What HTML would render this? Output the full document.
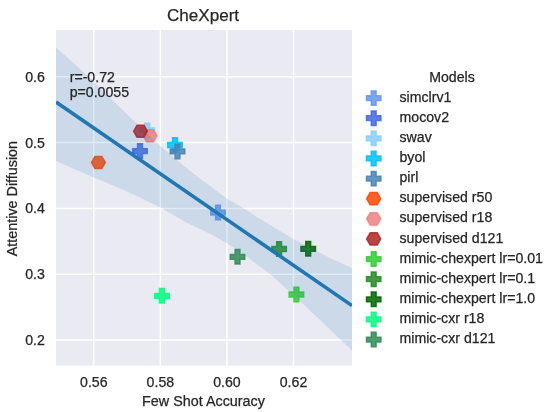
<!DOCTYPE html>
<html><head><meta charset="utf-8"><title>CheXpert</title>
<style>html,body{margin:0;padding:0;background:#fff;}svg{display:block;}text{font-family:"Liberation Sans",Arial,Helvetica,sans-serif;fill:#262626;stroke:#262626;stroke-width:0.25px;}</style></head><body>
<svg width="550" height="412" viewBox="0 0 550 412">
<rect x="0" y="0" width="550" height="412" fill="#ffffff"/>
<rect x="56" y="30" width="296" height="335.6" fill="#eaeaf2"/>
<clipPath id="c"><rect x="56" y="30" width="296" height="335.6"/></clipPath>
<g stroke="#ffffff" stroke-width="1.5" stroke-linecap="butt">
<line x1="93.80" y1="30" x2="93.80" y2="365.6"/>
<line x1="160.37" y1="30" x2="160.37" y2="365.6"/>
<line x1="226.94" y1="30" x2="226.94" y2="365.6"/>
<line x1="293.51" y1="30" x2="293.51" y2="365.6"/>
<line x1="56" y1="340.00" x2="352" y2="340.00"/>
<line x1="56" y1="274.20" x2="352" y2="274.20"/>
<line x1="56" y1="208.40" x2="352" y2="208.40"/>
<line x1="56" y1="142.60" x2="352" y2="142.60"/>
<line x1="56" y1="76.80" x2="352" y2="76.80"/>
</g>
<g clip-path="url(#c)">
<polygon points="215.58,205.35 220.42,205.35 220.42,210.18 225.25,210.18 225.25,215.02 220.42,215.02 220.42,219.85 215.58,219.85 215.58,215.02 210.75,215.02 210.75,210.18 215.58,210.18" fill="#6495ED" fill-opacity="0.85" stroke="#6495ED" stroke-opacity="0.85" stroke-width="1.5" stroke-linejoin="miter"/>
<polygon points="137.58,143.85 142.42,143.85 142.42,148.68 147.25,148.68 147.25,153.52 142.42,153.52 142.42,158.35 137.58,158.35 137.58,153.52 132.75,153.52 132.75,148.68 137.58,148.68" fill="#4169E1" fill-opacity="0.85" stroke="#4169E1" stroke-opacity="0.85" stroke-width="1.5" stroke-linejoin="miter"/>
<polygon points="144.78,123.15 149.62,123.15 149.62,127.98 154.45,127.98 154.45,132.82 149.62,132.82 149.62,137.65 144.78,137.65 144.78,132.82 139.95,132.82 139.95,127.98 144.78,127.98" fill="#87CEFA" fill-opacity="0.85" stroke="#87CEFA" stroke-opacity="0.85" stroke-width="1.5" stroke-linejoin="miter"/>
<polygon points="172.58,137.75 177.42,137.75 177.42,142.58 182.25,142.58 182.25,147.42 177.42,147.42 177.42,152.25 172.58,152.25 172.58,147.42 167.75,147.42 167.75,142.58 172.58,142.58" fill="#00BFFF" fill-opacity="0.85" stroke="#00BFFF" stroke-opacity="0.85" stroke-width="1.5" stroke-linejoin="miter"/>
<polygon points="175.08,144.15 179.92,144.15 179.92,148.98 184.75,148.98 184.75,153.82 179.92,153.82 179.92,158.65 175.08,158.65 175.08,153.82 170.25,153.82 170.25,148.98 175.08,148.98" fill="#4682B4" fill-opacity="0.85" stroke="#4682B4" stroke-opacity="0.85" stroke-width="1.5" stroke-linejoin="miter"/>
<polygon points="105.30,162.40 101.85,168.38 94.95,168.38 91.50,162.40 94.95,156.42 101.85,156.42" fill="#FF4500" fill-opacity="0.85" stroke="#FF4500" stroke-opacity="0.85" stroke-width="1.5" stroke-linejoin="miter"/>
<polygon points="156.90,135.80 153.45,141.78 146.55,141.78 143.10,135.80 146.55,129.82 153.45,129.82" fill="#F08080" fill-opacity="0.85" stroke="#F08080" stroke-opacity="0.85" stroke-width="1.5" stroke-linejoin="miter"/>
<polygon points="147.40,131.20 143.95,137.18 137.05,137.18 133.60,131.20 137.05,125.22 143.95,125.22" fill="#B22222" fill-opacity="0.85" stroke="#B22222" stroke-opacity="0.85" stroke-width="1.5" stroke-linejoin="miter"/>
<polygon points="293.98,287.25 298.82,287.25 298.82,292.08 303.65,292.08 303.65,296.92 298.82,296.92 298.82,301.75 293.98,301.75 293.98,296.92 289.15,296.92 289.15,292.08 293.98,292.08" fill="#32CD32" fill-opacity="0.85" stroke="#32CD32" stroke-opacity="0.85" stroke-width="1.5" stroke-linejoin="miter"/>
<polygon points="276.68,241.75 281.52,241.75 281.52,246.58 286.35,246.58 286.35,251.42 281.52,251.42 281.52,256.25 276.68,256.25 276.68,251.42 271.85,251.42 271.85,246.58 276.68,246.58" fill="#228B22" fill-opacity="0.85" stroke="#228B22" stroke-opacity="0.85" stroke-width="1.5" stroke-linejoin="miter"/>
<polygon points="305.78,241.55 310.62,241.55 310.62,246.38 315.45,246.38 315.45,251.22 310.62,251.22 310.62,256.05 305.78,256.05 305.78,251.22 300.95,251.22 300.95,246.38 305.78,246.38" fill="#006400" fill-opacity="0.85" stroke="#006400" stroke-opacity="0.85" stroke-width="1.5" stroke-linejoin="miter"/>
<polygon points="159.48,288.55 164.32,288.55 164.32,293.38 169.15,293.38 169.15,298.22 164.32,298.22 164.32,303.05 159.48,303.05 159.48,298.22 154.65,298.22 154.65,293.38 159.48,293.38" fill="#00FF7F" fill-opacity="0.85" stroke="#00FF7F" stroke-opacity="0.85" stroke-width="1.5" stroke-linejoin="miter"/>
<polygon points="235.08,249.55 239.92,249.55 239.92,254.38 244.75,254.38 244.75,259.22 239.92,259.22 239.92,264.05 235.08,264.05 235.08,259.22 230.25,259.22 230.25,254.38 235.08,254.38" fill="#2E8B57" fill-opacity="0.85" stroke="#2E8B57" stroke-opacity="0.85" stroke-width="1.5" stroke-linejoin="miter"/>
<polygon points="56.0,47.3 83.3,72.0 109.5,97.5 127.7,115.0 134.1,121.0 160.0,145.5 184.6,166.5 198.2,177.3 226.6,198.5 243.6,208.3 257.8,217.5 273.2,226.7 293.3,239.0 327.9,257.0 352.0,268.0 352.0,350.5 318.5,318.5 294.0,295.5 270.0,274.0 246.4,256.3 226.0,242.5 210.0,233.7 185.5,222.0 160.0,207.3 138.0,196.5 119.8,188.3 93.3,177.3 74.2,169.1 56.0,160.9" fill="#1f77b4" fill-opacity="0.15"/>
<line x1="56" y1="102.0" x2="352" y2="305.6" stroke="#1f77b4" stroke-width="3.6" stroke-linecap="butt"/>
</g>
<text x="69.7" y="82.1" font-size="14.15">r=-0.72</text>
<text x="69.7" y="97.3" font-size="14.15">p=0.0055</text>
<text x="93.80" y="386.6" font-size="14.15" text-anchor="middle">0.56</text>
<text x="160.37" y="386.6" font-size="14.15" text-anchor="middle">0.58</text>
<text x="226.94" y="386.6" font-size="14.15" text-anchor="middle">0.60</text>
<text x="293.51" y="386.6" font-size="14.15" text-anchor="middle">0.62</text>
<text x="44.9" y="345.00" font-size="14.15" text-anchor="end">0.2</text>
<text x="44.9" y="279.20" font-size="14.15" text-anchor="end">0.3</text>
<text x="44.9" y="213.40" font-size="14.15" text-anchor="end">0.4</text>
<text x="44.9" y="147.60" font-size="14.15" text-anchor="end">0.5</text>
<text x="44.9" y="81.80" font-size="14.15" text-anchor="end">0.6</text>
<text x="203.5" y="405.8" font-size="14.35" text-anchor="middle">Few Shot Accuracy</text>
<text transform="translate(17.2,198.6) rotate(-90)" font-size="14.35" text-anchor="middle">Attentive Diffusion</text>
<text x="203" y="21" font-size="17.1" text-anchor="middle">CheXpert</text>
<text x="452" y="81.6" font-size="14.15" text-anchor="middle">Models</text>
<polygon points="371.30,90.90 376.10,90.90 376.10,95.70 380.90,95.70 380.90,100.50 376.10,100.50 376.10,105.30 371.30,105.30 371.30,100.50 366.50,100.50 366.50,95.70 371.30,95.70" fill="#6495ED" fill-opacity="0.85" stroke="#6495ED" stroke-opacity="0.85" stroke-width="1.5" stroke-linejoin="miter"/>
<text x="399.5" y="101.50" font-size="14.15">simclrv1</text>
<polygon points="371.30,111.02 376.10,111.02 376.10,115.82 380.90,115.82 380.90,120.62 376.10,120.62 376.10,125.42 371.30,125.42 371.30,120.62 366.50,120.62 366.50,115.82 371.30,115.82" fill="#4169E1" fill-opacity="0.85" stroke="#4169E1" stroke-opacity="0.85" stroke-width="1.5" stroke-linejoin="miter"/>
<text x="399.5" y="121.66" font-size="14.15">mocov2</text>
<polygon points="371.30,131.14 376.10,131.14 376.10,135.94 380.90,135.94 380.90,140.74 376.10,140.74 376.10,145.54 371.30,145.54 371.30,140.74 366.50,140.74 366.50,135.94 371.30,135.94" fill="#87CEFA" fill-opacity="0.85" stroke="#87CEFA" stroke-opacity="0.85" stroke-width="1.5" stroke-linejoin="miter"/>
<text x="399.5" y="141.82" font-size="14.15">swav</text>
<polygon points="371.30,151.26 376.10,151.26 376.10,156.06 380.90,156.06 380.90,160.86 376.10,160.86 376.10,165.66 371.30,165.66 371.30,160.86 366.50,160.86 366.50,156.06 371.30,156.06" fill="#00BFFF" fill-opacity="0.85" stroke="#00BFFF" stroke-opacity="0.85" stroke-width="1.5" stroke-linejoin="miter"/>
<text x="399.5" y="161.97" font-size="14.15">byol</text>
<polygon points="371.30,171.38 376.10,171.38 376.10,176.18 380.90,176.18 380.90,180.98 376.10,180.98 376.10,185.78 371.30,185.78 371.30,180.98 366.50,180.98 366.50,176.18 371.30,176.18" fill="#4682B4" fill-opacity="0.85" stroke="#4682B4" stroke-opacity="0.85" stroke-width="1.5" stroke-linejoin="miter"/>
<text x="399.5" y="182.13" font-size="14.15">pirl</text>
<polygon points="380.75,198.70 377.22,204.81 370.18,204.81 366.65,198.70 370.18,192.59 377.22,192.59" fill="#FF4500" fill-opacity="0.85" stroke="#FF4500" stroke-opacity="0.85" stroke-width="1.5" stroke-linejoin="miter"/>
<text x="399.5" y="202.29" font-size="14.15">supervised r50</text>
<polygon points="380.75,218.82 377.22,224.93 370.18,224.93 366.65,218.82 370.18,212.71 377.22,212.71" fill="#F08080" fill-opacity="0.85" stroke="#F08080" stroke-opacity="0.85" stroke-width="1.5" stroke-linejoin="miter"/>
<text x="399.5" y="222.45" font-size="14.15">supervised r18</text>
<polygon points="380.75,238.94 377.22,245.05 370.18,245.05 366.65,238.94 370.18,232.83 377.22,232.83" fill="#B22222" fill-opacity="0.85" stroke="#B22222" stroke-opacity="0.85" stroke-width="1.5" stroke-linejoin="miter"/>
<text x="399.5" y="242.61" font-size="14.15">supervised d121</text>
<polygon points="371.30,251.86 376.10,251.86 376.10,256.66 380.90,256.66 380.90,261.46 376.10,261.46 376.10,266.26 371.30,266.26 371.30,261.46 366.50,261.46 366.50,256.66 371.30,256.66" fill="#32CD32" fill-opacity="0.85" stroke="#32CD32" stroke-opacity="0.85" stroke-width="1.5" stroke-linejoin="miter"/>
<text x="399.5" y="262.76" font-size="14.15">mimic-chexpert lr=0.01</text>
<polygon points="371.30,271.98 376.10,271.98 376.10,276.78 380.90,276.78 380.90,281.58 376.10,281.58 376.10,286.38 371.30,286.38 371.30,281.58 366.50,281.58 366.50,276.78 371.30,276.78" fill="#228B22" fill-opacity="0.85" stroke="#228B22" stroke-opacity="0.85" stroke-width="1.5" stroke-linejoin="miter"/>
<text x="399.5" y="282.92" font-size="14.15">mimic-chexpert lr=0.1</text>
<polygon points="371.30,292.10 376.10,292.10 376.10,296.90 380.90,296.90 380.90,301.70 376.10,301.70 376.10,306.50 371.30,306.50 371.30,301.70 366.50,301.70 366.50,296.90 371.30,296.90" fill="#006400" fill-opacity="0.85" stroke="#006400" stroke-opacity="0.85" stroke-width="1.5" stroke-linejoin="miter"/>
<text x="399.5" y="303.08" font-size="14.15">mimic-chexpert lr=1.0</text>
<polygon points="371.30,312.22 376.10,312.22 376.10,317.02 380.90,317.02 380.90,321.82 376.10,321.82 376.10,326.62 371.30,326.62 371.30,321.82 366.50,321.82 366.50,317.02 371.30,317.02" fill="#00FF7F" fill-opacity="0.85" stroke="#00FF7F" stroke-opacity="0.85" stroke-width="1.5" stroke-linejoin="miter"/>
<text x="399.5" y="323.24" font-size="14.15">mimic-cxr r18</text>
<polygon points="371.30,332.34 376.10,332.34 376.10,337.14 380.90,337.14 380.90,341.94 376.10,341.94 376.10,346.74 371.30,346.74 371.30,341.94 366.50,341.94 366.50,337.14 371.30,337.14" fill="#2E8B57" fill-opacity="0.85" stroke="#2E8B57" stroke-opacity="0.85" stroke-width="1.5" stroke-linejoin="miter"/>
<text x="399.5" y="343.40" font-size="14.15">mimic-cxr d121</text>
</svg></body></html>
